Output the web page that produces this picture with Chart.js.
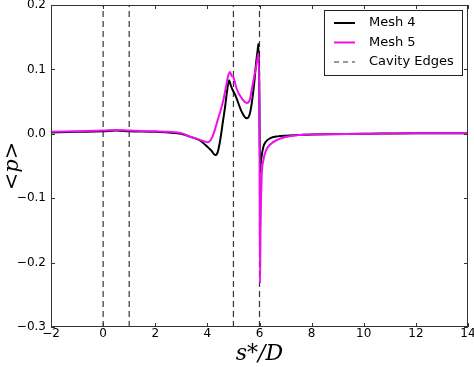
<!DOCTYPE html>
<html>
<head>
<meta charset="utf-8">
<script src="https://cdn.jsdelivr.net/npm/chart.js@4.4.0/dist/chart.umd.min.js"></script>
<style>
  html, body { margin: 0; padding: 0; background: #fff; }
</style>
</head>
<body>
<canvas id="pressureChart" width="474" height="367"></canvas>
<script>
// Mesh 4 (black)
const mesh4X = [-2, -1, 0, 0.5, 1, 2, 2.5, 3, 3.3, 3.7, 4.0, 4.15, 4.3, 4.4, 4.5, 4.6, 4.68, 4.76, 4.83, 4.9, 4.97, 5.05, 5.12, 5.32, 5.51, 5.62, 5.7, 5.8, 5.87, 5.93, 5.96, 5.99, 6.02, 6.05, 6.1, 6.15, 6.25, 6.4, 6.7, 7.0, 7.5, 8, 10, 12, 14];
const mesh4Y = [0.002, 0.003, 0.004, 0.005, 0.004, 0.003, 0.002, 0.0, -0.004, -0.01, -0.02, -0.026, -0.033, -0.028, -0.008, 0.02, 0.042, 0.068, 0.083, 0.075, 0.068, 0.062, 0.055, 0.034, 0.024, 0.03, 0.047, 0.08, 0.11, 0.13, 0.14, 0.08, -0.06, -0.045, -0.03, -0.02, -0.012, -0.007, -0.004, -0.003, -0.002, -0.001, 0.0, 0.001, 0.001];

// Mesh 5 (magenta)
const mesh5X = [-2, -1, 0, 0.5, 1, 2, 2.5, 3, 3.3, 3.7, 4.0, 4.1, 4.2, 4.3, 4.4, 4.5, 4.6, 4.7, 4.8, 4.87, 4.93, 5.0, 5.12, 5.32, 5.51, 5.62, 5.7, 5.8, 5.87, 5.93, 5.97, 6.0, 6.02, 6.04, 6.08, 6.15, 6.25, 6.4, 6.7, 7.0, 7.5, 8, 10, 12, 14];
const mesh5Y = [0.003, 0.004, 0.005, 0.006, 0.005, 0.004, 0.003, 0.001, -0.004, -0.009, -0.013, -0.011, -0.004, 0.008, 0.022, 0.035, 0.05, 0.07, 0.09, 0.096, 0.09, 0.088, 0.07, 0.055, 0.048, 0.052, 0.068, 0.09, 0.104, 0.118, 0.125, 0.0, -0.232, -0.15, -0.07, -0.041, -0.026, -0.017, -0.009, -0.005, -0.002, -0.001, 0.0, 0.001, 0.001];

// cavity edges (dashed verticals)
const edgePositions = [0, 1, 5, 6];

// axis ticks
const xTicks = [-2, 0, 2, 4, 6, 8, 10, 12, 14];
const yTicks = [0.2, 0.1, 0.0, -0.1, -0.2, -0.3];

const X_MIN = -2, X_MAX = 14, Y_MIN = -0.3, Y_MAX = 0.2;

function toPoints(xs, ys) {
    return xs.map((x, i) => ({ x: x, y: ys[i] }));
}

function fmt(v, digits) {
    return v.toFixed(digits).replace('-', '\u2212');
}

const datasets = [
    {
        label: 'Mesh 4',
        data: toPoints(mesh4X, mesh4Y),
        borderColor: '#000000',
        borderWidth: 2,
        pointRadius: 0,
        cubicInterpolationMode: 'monotone',
        order: 1
    },
    {
        label: 'Mesh 5',
        data: toPoints(mesh5X, mesh5Y),
        borderColor: '#ee11ee',
        borderWidth: 2,
        pointRadius: 0,
        cubicInterpolationMode: 'monotone',
        order: 0
    }
];

edgePositions.forEach(pos => {
    datasets.push({
        label: 'Cavity Edges',
        data: [{ x: pos, y: Y_MIN }, { x: pos, y: Y_MAX }],
        borderColor: '#333333',
        borderWidth: 1.2,
        borderDash: [6, 4],
        pointRadius: 0,
        order: 2
    });
});

// frame, inward ticks and boxed legend like matplotlib
const framePlugin = {
    id: 'frame',
    afterDraw(chart) {
        const ctx = chart.ctx;
        const a = chart.chartArea;
        const xs = chart.scales.x, ys = chart.scales.y;
        ctx.save();
        ctx.strokeStyle = '#333333';
        ctx.lineWidth = 1;
        ctx.strokeRect(a.left + 0.5, a.top + 0.5, a.right - a.left - 1, a.bottom - a.top - 1);

        ctx.beginPath();
        xTicks.forEach(t => {
            const px = Math.round(xs.getPixelForValue(t)) + 0.5;
            ctx.moveTo(px, a.bottom); ctx.lineTo(px, a.bottom - 4);
            ctx.moveTo(px, a.top); ctx.lineTo(px, a.top + 4);
        });
        yTicks.forEach(t => {
            const py = Math.round(ys.getPixelForValue(t)) + 0.5;
            ctx.moveTo(a.left, py); ctx.lineTo(a.left + 4, py);
            ctx.moveTo(a.right, py); ctx.lineTo(a.right - 4, py);
        });
        ctx.stroke();

        // legend
        const bx = 324, by = 10, bw = 138, bh = 65;
        ctx.fillStyle = '#ffffff';
        ctx.fillRect(bx, by, bw, bh);
        ctx.strokeStyle = '#222222';
        ctx.strokeRect(bx + 0.5, by + 0.5, bw, bh);
        const items = [
            { text: 'Mesh 4', color: '#000000', width: 2, dash: [] },
            { text: 'Mesh 5', color: '#ee11ee', width: 2, dash: [] },
            { text: 'Cavity Edges', color: '#333333', width: 1.2, dash: [5, 4] }
        ];
        ctx.font = '13px "DejaVu Sans"';
        ctx.textBaseline = 'middle';
        items.forEach((it, i) => {
            const yy = by + 13 + i * 19.5;
            ctx.beginPath();
            ctx.setLineDash(it.dash);
            ctx.strokeStyle = it.color;
            ctx.lineWidth = it.width;
            ctx.moveTo(334, yy);
            ctx.lineTo(355, yy);
            ctx.stroke();
            ctx.setLineDash([]);
            ctx.fillStyle = '#000000';
            ctx.fillText(it.text, 369, yy);
        });
        ctx.restore();
    }
};

const ctx = document.getElementById('pressureChart').getContext('2d');
new Chart(ctx, {
    type: 'line',
    data: { datasets: datasets },
    options: {
        responsive: false,
        animation: false,
        layout: { padding: { top: 5, right: 6, left: 0, bottom: 0 } },
        plugins: {
            legend: { display: false },
            tooltip: { enabled: false }
        },
        scales: {
            x: {
                type: 'linear',
                min: X_MIN,
                max: X_MAX,
                afterBuildTicks: scale => { scale.ticks = xTicks.map(v => ({ value: v })); },
                afterFit: scale => {
                    scale.height = 40;
                    scale.paddingLeft = 0;
                    scale.paddingRight = 0;
                },
                grid: { display: false, drawTicks: false, tickLength: 0 },
                border: { display: false },
                ticks: {
                    color: '#000000',
                    font: { family: 'DejaVu Sans', size: 12 },
                    padding: 0,
                    maxRotation: 0,
                    callback: v => fmt(v, 0)
                },
                title: {
                    display: true,
                    text: 's*/D',
                    color: '#000000',
                    font: { family: 'DejaVu Serif', size: 22, style: 'italic' },
                    padding: { top: 0, bottom: 0 }
                }
            },
            y: {
                type: 'linear',
                min: Y_MIN,
                max: Y_MAX,
                afterBuildTicks: scale => { scale.ticks = yTicks.map(v => ({ value: v })); },
                afterFit: scale => {
                    scale.width = 51;
                    scale.paddingTop = 0;
                    scale.paddingBottom = 0;
                },
                grid: { display: false, drawTicks: false, tickLength: 0 },
                border: { display: false },
                ticks: {
                    color: '#000000',
                    font: { family: 'DejaVu Sans', size: 12 },
                    padding: 5,
                    callback: v => fmt(v, 1)
                },
                title: {
                    display: true,
                    text: '<p>',
                    color: '#000000',
                    font: { family: 'DejaVu Serif', size: 21, style: 'italic' },
                    padding: { top: 0, bottom: 0 }
                }
            }
        }
    },
    plugins: [framePlugin]
});
</script>
</body>
</html>
